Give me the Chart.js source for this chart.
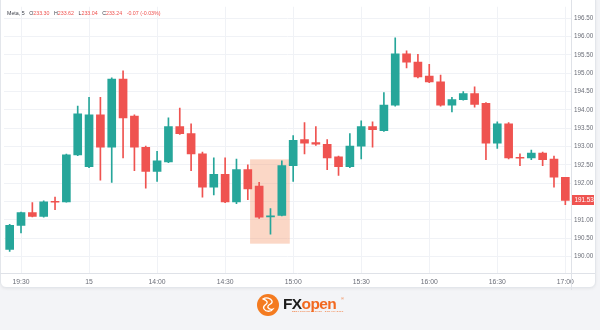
<!DOCTYPE html>
<html lang="en">

<head>
  <meta charset="UTF-8" />
  <title>Meta 5m candles</title>
  <script src="https://cdn.jsdelivr.net/npm/chart.js"></script>
  <style>
    html, body {
      margin: 0;
      padding: 0;
      width: 600px;
      height: 330px;
      overflow: hidden;
      background: #f3f4f7;
      font-family: "Liberation Sans", Arial, sans-serif;
    }

    .card {
      position: absolute;
      left: 0;
      top: -6px;
      width: 596px;
      height: 294px;
      background: #fff;
      border: 1px solid #e3e6eb;
      border-radius: 6px;
      box-sizing: border-box;
      box-shadow: 0 1px 3px rgba(0, 0, 0, 0.06);
    }

    canvas {
      position: absolute;
      left: 0;
      top: 0;
    }

    .legend {
      position: absolute;
      left: 7px;
      top: 10px;
      font-size: 5.3px;
      color: #3b3e48;
      white-space: nowrap;
    }

    .legend span {
      margin-right: 3px;
    }

    .legend .v {
      color: #ef5350;
      margin-right: 0;
    }

    .logo {
      position: absolute;
      left: 256px;
      top: 293px;
      height: 24px;
    }

    .logo .brand {
      position: absolute;
      left: 27px;
      top: 3px;
      font-size: 15.5px;
      font-weight: bold;
      letter-spacing: -0.6px;
      line-height: 1;
      color: #1c1c1c;
    }

    .logo .brand b {
      color: #f26a21;
    }

    .logo .reg {
      position: absolute;
      left: 85px;
      top: 3px;
      font-size: 4px;
      color: #f26a21;
    }

    .logo .tag {
      position: absolute;
      left: 36px;
      top: 17px;
      font-size: 2.4px;
      color: #f26a21;
      white-space: nowrap;
      letter-spacing: 0.2px;
    }
  </style>
</head>

<body>
  <div class="card"></div>
  <canvas id="chart" width="600" height="330"></canvas>

  <div class="legend">
    <span>Meta, 5</span>
    <span>O<span class="v">233.30</span></span>
    <span>H<span class="v">233.62</span></span>
    <span>L<span class="v">233.04</span></span>
    <span>C<span class="v">233.24</span></span>
    <span class="v">-0.07 (-0.03%)</span>
  </div>

  <div class="logo">
    <svg width="24" height="24" viewBox="0 0 24 24" style="position:absolute;left:0;top:0">
      <circle cx="12" cy="12" r="11" fill="#f47b20" />
      <path d="M7 6 C10 4 15 5 16 8 C17 11 13 11 12 13 C11 15 14 17 17 16 C15 19 10 19 8 16 C6 13 10 12 11 10 C12 8 9 7 7 6 Z"
        fill="none" stroke="#fff" stroke-width="1.3" />
    </svg>
    <div class="brand">FX<b>open</b></div>
    <div class="reg">®</div>
    <div class="tag">BEST ONLINE BROKER · ECN TRADING</div>
  </div>

  <script>
    // 5-minute candles, two sessions
    const times = ['19:25', '19:30', '19:35', '19:40', '19:45', '19:50', '19:55',
      '15', '13:35', '13:40', '13:45', '13:50', '13:55',
      '14:00', '14:05', '14:10', '14:15', '14:20', '14:25',
      '14:30', '14:35', '14:40', '14:45', '14:50', '14:55',
      '15:00', '15:05', '15:10', '15:15', '15:20', '15:25',
      '15:30', '15:35', '15:40', '15:45', '15:50', '15:55',
      '16:00', '16:05', '16:10', '16:15', '16:20', '16:25',
      '16:30', '16:35', '16:40', '16:45', '16:50', '16:55',
      '17:00'];
    const shownTimes = ['19:30', '15', '14:00', '14:30', '15:00', '15:30', '16:00', '16:30', '17:00'];

    const opens = [190.19, 190.85, 191.20, 191.09, 191.49, 191.49, 192.77, 192.45, 193.86, 192.98,
      194.84, 193.83, 192.98, 192.32, 192.58, 193.54, 193.35, 192.80, 191.89, 192.24,
      191.49, 192.37, 191.92, 191.08, 191.12, 192.48, 193.19, 193.11, 193.06, 192.72,
      192.45, 193.01, 193.54, 193.43, 194.13, 195.53, 195.30, 194.92, 194.76, 194.13,
      194.28, 194.44, 194.18, 193.09, 193.62, 192.69, 192.69, 192.82, 192.66, 192.16];
    const highs = [190.88, 191.21, 191.47, 191.52, 191.62, 192.79, 194.10, 194.34, 194.34, 194.87,
      195.06, 193.86, 193.01, 192.87, 193.78, 194.05, 193.62, 192.85, 192.69, 192.69,
      192.66, 192.50, 192.02, 191.31, 192.61, 193.30, 193.65, 193.54, 193.19, 192.74,
      193.35, 193.70, 193.67, 194.47, 195.96, 195.61, 195.51, 195.24, 194.95, 194.34,
      194.50, 194.63, 194.20, 193.67, 193.65, 192.80, 192.90, 192.85, 192.74, 192.16];
    const lows = [190.14, 190.64, 191.08, 191.07, 191.28, 191.48, 192.75, 192.42, 192.08, 192.02,
      192.69, 192.34, 191.86, 192.05, 192.56, 193.33, 192.34, 191.62, 191.68, 191.47,
      191.44, 191.55, 191.04, 190.61, 191.11, 192.05, 192.80, 193.03, 192.37, 192.21,
      192.42, 192.66, 192.98, 193.41, 194.10, 195.14, 194.87, 194.74, 194.10, 193.94,
      194.26, 194.07, 192.64, 192.95, 192.66, 192.48, 192.64, 192.48, 191.89, 191.41];
    const closes = [190.85, 191.20, 191.09, 191.49, 191.48, 192.77, 193.89, 193.86, 192.98, 194.84,
      193.78, 192.98, 192.32, 192.61, 193.54, 193.35, 192.80, 191.89, 192.24, 191.49,
      192.37, 191.84, 191.07, 191.09, 192.48, 193.17, 193.09, 193.06, 192.69, 192.45,
      193.01, 193.54, 193.46, 194.13, 195.53, 195.30, 194.90, 194.76, 194.13, 194.28,
      194.44, 194.15, 193.09, 193.62, 192.69, 192.68, 192.82, 192.64, 192.16, 191.53];

    const priceTicks = [190, 190.5, 191, 191.5, 192, 192.5, 193, 193.5, 194, 194.5, 195, 195.5, 196, 196.5];

    // shaded zone around the reversal candles (category index range, price range)
    const zoneIndex = [21.2, 24.7];
    const zonePrice = [190.35, 192.65];

    const GREEN = '#26a69a';
    const RED = '#ef5350';
    const candleColor = ctx => closes[ctx.dataIndex] >= opens[ctx.dataIndex] ? GREEN : RED;
    const FONT = '"Liberation Sans", Arial, sans-serif';

    const zonePlugin = {
      id: 'zone',
      beforeDatasetsDraw(chart) {
        const { ctx, scales } = chart;
        const x1 = scales.x.getPixelForValue(zoneIndex[0]);
        const x2 = scales.x.getPixelForValue(zoneIndex[1]);
        const y1 = scales.y.getPixelForValue(zonePrice[1]);
        const y2 = scales.y.getPixelForValue(zonePrice[0]);
        ctx.save();
        ctx.fillStyle = 'rgba(246, 160, 118, 0.42)';
        ctx.fillRect(x1, y1, x2 - x1, y2 - y1);
        ctx.restore();
      }
    };

    const framePlugin = {
      id: 'frame',
      afterDraw(chart) {
        const { ctx, chartArea, scales } = chart;
        ctx.save();
        ctx.strokeStyle = '#dfe2e8';
        ctx.lineWidth = 1;
        ctx.beginPath();
        ctx.moveTo(chartArea.right + 0.5, 0);
        ctx.lineTo(chartArea.right + 0.5, scales.x.bottom);
        ctx.moveTo(0, chartArea.bottom + 0.5);
        ctx.lineTo(scales.y.right, chartArea.bottom + 0.5);
        ctx.stroke();

        // last price tag
        const last = closes[closes.length - 1];
        const y = Math.round(scales.y.getPixelForValue(last));
        ctx.fillStyle = RED;
        ctx.fillRect(chartArea.right + 1, y - 5, 22, 10);
        ctx.fillStyle = '#fff';
        ctx.font = '6.3px ' + FONT;
        ctx.textBaseline = 'middle';
        ctx.textAlign = 'left';
        ctx.fillText(last.toFixed(2), chartArea.right + 3.5, y + 0.5);
        ctx.restore();
      }
    };

    new Chart(document.getElementById('chart'), {
      type: 'bar',
      data: {
        labels: times,
        datasets: [
          {
            data: opens.map((o, i) => [o, closes[i]]),
            backgroundColor: candleColor,
            barThickness: 8,
            minBarLength: 1,
            grouped: false,
            borderSkipped: false,
            borderWidth: 0,
            order: 1
          },
          {
            data: lows.map((l, i) => [l, highs[i]]),
            backgroundColor: candleColor,
            barThickness: 1,
            grouped: false,
            borderSkipped: false,
            borderWidth: 0,
            order: 2
          }
        ]
      },
      options: {
        responsive: false,
        animation: false,
        layout: {
          padding: { left: 4, top: 0, right: 5, bottom: 40 }
        },
        plugins: {
          legend: { display: false },
          tooltip: { enabled: false }
        },
        scales: {
          x: {
            offset: true,
            grid: {
              offset: false,
              drawTicks: false,
              color: ctx => ctx.tick && shownTimes.includes(times[ctx.index]) ? '#f0f2f6' : 'rgba(0,0,0,0)'
            },
            border: { display: false },
            ticks: {
              autoSkip: false,
              maxRotation: 0,
              padding: 5,
              color: '#6b6e78',
              font: { size: 6.8, family: FONT },
              callback: (v, i) => shownTimes.includes(times[i]) ? times[i] : ''
            },
            afterFit: s => { s.height = 17; }
          },
          y: {
            position: 'right',
            min: 189.55,
            max: 196.81,
            grid: { color: '#f0f2f6', drawTicks: false },
            border: { display: false },
            ticks: {
              padding: 3,
              color: '#6b6e78',
              font: { size: 6.3, family: FONT },
              callback: v => Number(v).toFixed(2)
            },
            afterBuildTicks: s => { s.ticks = priceTicks.map(v => ({ value: v })); },
            afterFit: s => { s.width = 24; }
          }
        }
      },
      plugins: [zonePlugin, framePlugin]
    });
  </script>
</body>

</html>
